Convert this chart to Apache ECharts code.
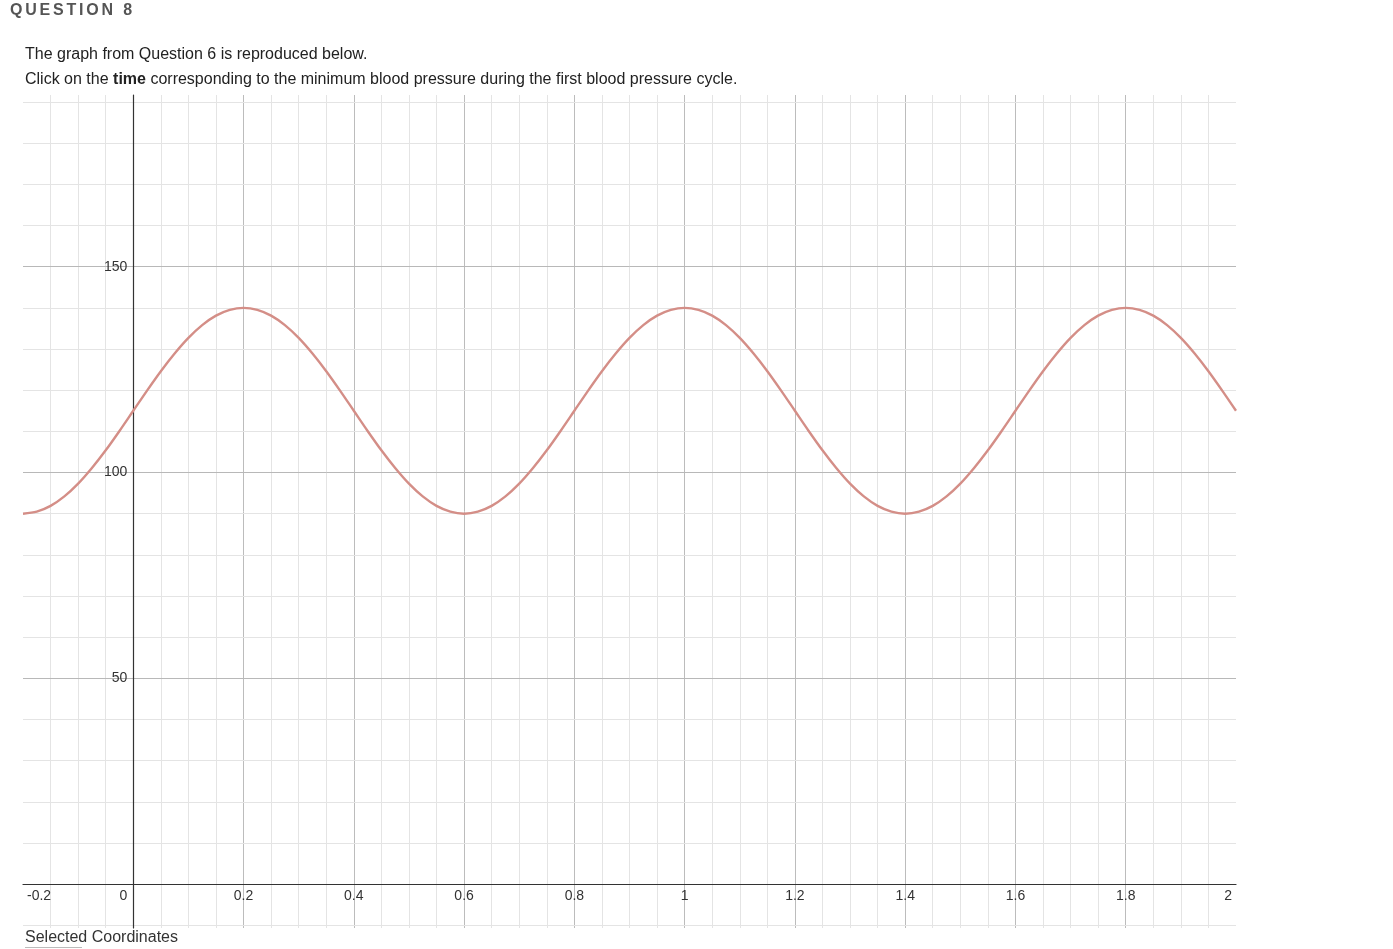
<!DOCTYPE html>
<html>
<head>
<meta charset="utf-8">
<script src="https://cdn.jsdelivr.net/npm/echarts@6/dist/echarts.min.js"></script>
<style>
  html, body { margin: 0; padding: 0; background: #fff; }
  #wrap { position: relative; width: 1393px; height: 949px; overflow: hidden; }
  #chart { position: absolute; left: 0; top: 0; width: 1393px; height: 949px; }
  .txt { position: absolute; font-family: "Liberation Sans", Arial, sans-serif; white-space: nowrap; pointer-events: none; }
  #q { left: 10px; top: 0px; font-size: 16px; font-weight: bold; letter-spacing: 2.8px; color: #555; line-height: 20px; }
  #l1 { left: 25px; top: 44px; font-size: 16px; color: #222; line-height: 20px; }
  #l2 { left: 25px; top: 69px; font-size: 16px; color: #222; line-height: 20px; }
  #sc { left: 25px; top: 927px; font-size: 16px; color: #333; line-height: 20px; }
  #scline { position: absolute; left: 25px; top: 947px; width: 57px; height: 0; border-top: 1px solid #bbb; }
</style>
</head>
<body>
<div id="wrap">
  <div id="chart"></div>
  <div class="txt" id="q">QUESTION 8</div>
  <div class="txt" id="l1">The graph from Question 6 is reproduced below.</div>
  <div class="txt" id="l2">Click on the <b>time</b> corresponding to the minimum blood pressure during the first blood pressure cycle.</div>
  <div class="txt" id="sc">Selected Coordinates</div>
  <div id="scline"></div>
</div>
<script>
// time (x) samples
var times = [
  -0.2, -0.175, -0.15, -0.125, -0.1, -0.075, -0.05, -0.025,
  0, 0.025, 0.05, 0.075, 0.1, 0.125, 0.15, 0.175,
  0.2, 0.225, 0.25, 0.275, 0.3, 0.325, 0.35, 0.375,
  0.4, 0.425, 0.45, 0.475, 0.5, 0.525, 0.55, 0.575,
  0.6, 0.625, 0.65, 0.675, 0.7, 0.725, 0.75, 0.775,
  0.8, 0.825, 0.85, 0.875, 0.9, 0.925, 0.95, 0.975,
  1.0, 1.025, 1.05, 1.075, 1.1, 1.125, 1.15, 1.175,
  1.2, 1.225, 1.25, 1.275, 1.3, 1.325, 1.35, 1.375,
  1.4, 1.425, 1.45, 1.475, 1.5, 1.525, 1.55, 1.575,
  1.6, 1.625, 1.65, 1.675, 1.7, 1.725, 1.75, 1.775,
  1.8, 1.825, 1.85, 1.875, 1.9, 1.925, 1.95, 1.975,
  2.0
];
// blood pressure values
var pressure = [
  90, 90.5, 91.9, 94.2, 97.3, 101.1, 105.4, 110.1,
  115, 119.9, 124.6, 128.9, 132.7, 135.8, 138.1, 139.5,
  140, 139.5, 138.1, 135.8, 132.7, 128.9, 124.6, 119.9,
  115, 110.1, 105.4, 101.1, 97.3, 94.2, 91.9, 90.5,
  90, 90.5, 91.9, 94.2, 97.3, 101.1, 105.4, 110.1,
  115, 119.9, 124.6, 128.9, 132.7, 135.8, 138.1, 139.5,
  140, 139.5, 138.1, 135.8, 132.7, 128.9, 124.6, 119.9,
  115, 110.1, 105.4, 101.1, 97.3, 94.2, 91.9, 90.5,
  90, 90.5, 91.9, 94.2, 97.3, 101.1, 105.4, 110.1,
  115, 119.9, 124.6, 128.9, 132.7, 135.8, 138.1, 139.5,
  140, 139.5, 138.1, 135.8, 132.7, 128.9, 124.6, 119.9,
  115
];
// axis tick labels
var xTickLabels = ['-0.2', '0', '0.2', '0.4', '0.6', '0.8', '1', '1.2', '1.4', '1.6', '1.8', '2'];
var yTickLabels = ['50', '100', '150'];

var seriesData = times.map(function (t, i) { return [t, pressure[i]]; });

var fontFam = '"Liberation Sans", Arial, sans-serif';
var chart = echarts.init(document.getElementById('chart'), null, { renderer: 'canvas' });

function xLabel(v) {
  var s = String(Math.round(v * 10) / 10);
  if (xTickLabels.indexOf(s) < 0) return '';
  if (s === '0') return '{z|0}';
  if (s === '-0.2') return '{l|-0.2}';
  if (s === '2') return '{r|2}';
  return s;
}
function yLabel(v) {
  var s = String(Math.round(v));
  return yTickLabels.indexOf(s) >= 0 ? s : '';
}

var X0 = 23, PW = 1213, Y_TOP = 102, PH = 823.4;
var ZERO_X = 133.3, ZERO_Y = 884.3;
var noneAxis = { show: false };

chart.setOption({
  animation: false,
  backgroundColor: '#fff',
  grid: [
    // 0: main plot
    { left: X0, top: Y_TOP, width: PW, height: PH, containLabel: false, outerBoundsMode: 'none' },
    // 1: vertical gridlines (slightly taller)
    { left: X0, top: 95, width: PW, height: 833, containLabel: false, outerBoundsMode: 'none' },
    // 2: x labels along y=0
    { left: X0, top: Y_TOP, width: PW, height: ZERO_Y - Y_TOP, containLabel: false, outerBoundsMode: 'none' },
    // 3: y labels along x=0
    { left: ZERO_X, top: Y_TOP, width: X0 + PW - ZERO_X, height: PH, containLabel: false, outerBoundsMode: 'none' }
  ],
  xAxis: [
    {
      type: 'value', gridIndex: 0, min: -0.2, max: 2, interval: 0.2, z: 3,
      axisLine: { show: true, onZero: true, lineStyle: { color: '#333', width: 1.2 } },
      axisTick: { show: false },
      splitLine: { show: false },
      axisLabel: { show: false }
    },
    {
      type: 'value', gridIndex: 1, min: -0.2, max: 2, interval: 0.2, z: 0,
      axisLine: { show: false },
      axisTick: { show: false },
      axisLabel: { show: false },
      minorTick: { show: false, splitNumber: 4 },
      splitLine: { show: true, showMinLine: false, showMaxLine: false, lineStyle: { color: '#bcbcbc', width: 1 } },
      minorSplitLine: { show: true, lineStyle: { color: '#e4e4e4', width: 1 } }
    },
    {
      type: 'value', gridIndex: 2, min: -0.2, max: 2, interval: 0.2, z: 3,
      axisLine: { show: false, onZero: false },
      axisTick: { show: false },
      splitLine: { show: false },
      axisLabel: {
        show: true, margin: 5, color: '#333', fontSize: 14, fontFamily: fontFam,
        showMinLabel: true, showMaxLabel: true, hideOverlap: false,
        alignMinLabel: 'left', alignMaxLabel: 'right',
        formatter: xLabel,
        rich: {
          z: { padding: [0, 20, 0, 0], color: '#333', fontSize: 14, fontFamily: fontFam },
          l: { padding: [0, 0, 0, 4], color: '#333', fontSize: 14, fontFamily: fontFam },
          r: { padding: [0, 4, 0, 0], color: '#333', fontSize: 14, fontFamily: fontFam }
        }
      }
    },
    {
      type: 'value', gridIndex: 3, min: 0, max: 2, show: false
    }
  ],
  yAxis: [
    {
      type: 'value', gridIndex: 0, min: -10, max: 190, interval: 10, z: 2,
      axisLine: { show: false },
      axisTick: { show: false },
      axisLabel: { show: false },
      splitLine: {
        show: true, showMinLine: true, showMaxLine: true,
        lineStyle: { color: ['#e4e4e4', '#b8b8b8', '#e4e4e4', '#e4e4e4', '#e4e4e4'], width: 1 }
      }
    },
    {
      type: 'value', gridIndex: 1, min: 0, max: 1, z: 2,
      axisLine: { show: true, onZero: true, lineStyle: { color: '#333', width: 1.2 } },
      axisTick: { show: false },
      axisLabel: { show: false },
      splitLine: { show: false }
    },
    {
      type: 'value', gridIndex: 2, min: 0, max: 1, show: false
    },
    {
      type: 'value', gridIndex: 3, min: -10, max: 190, interval: 10, z: 3,
      axisLine: { show: false, onZero: false },
      axisTick: { show: false },
      splitLine: { show: false },
      axisLabel: {
        show: true, margin: 6, color: '#333', fontSize: 14, fontFamily: fontFam,
        showMinLabel: true, showMaxLabel: true, hideOverlap: false,
        formatter: yLabel
      }
    }
  ],
  series: [
    {
      type: 'line', xAxisIndex: 0, yAxisIndex: 0,
      data: seriesData,
      smooth: 0.3,
      showSymbol: false,
      symbol: 'none',
      z: 5,
      lineStyle: { color: '#d48e87', width: 2.4 },
      clip: true
    }
  ]
});
</script>
</body>
</html>
